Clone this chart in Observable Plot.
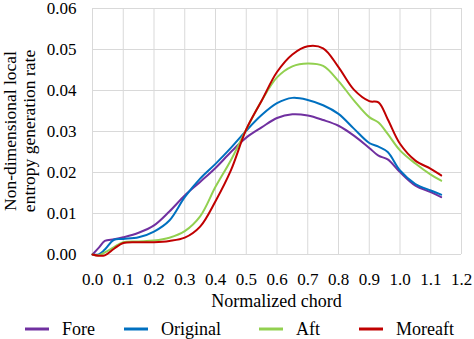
<!DOCTYPE html>
<html>
<head>
<meta charset="utf-8">
<script src="https://cdn.jsdelivr.net/npm/d3@7"></script>
<script src="https://cdn.jsdelivr.net/npm/@observablehq/plot@0.6"></script>
<style>
  html, body { margin: 0; padding: 0; background: #fff; }
  #chart { width: 474px; font-family: "Liberation Serif", "DejaVu Serif", "Times New Roman", Times, serif; }
  #chart svg text { font-family: "Liberation Serif", "DejaVu Serif", "Times New Roman", Times, serif !important; }
  svg { display: block; }
</style>
</head>
<body>
<div id="chart"></div>
<script>
// ---- data ----
const chord = [0, 0.02, 0.04, 0.07, 0.1, 0.15, 0.2, 0.25, 0.3, 0.35, 0.4, 0.45, 0.5, 0.55, 0.6, 0.65, 0.7, 0.75, 0.8, 0.85, 0.9, 0.93, 0.96, 1.0, 1.05, 1.1, 1.134];
const fore     = [0, 0.0016, 0.0033, 0.0037, 0.0042, 0.0053, 0.0071, 0.0105, 0.0144, 0.0177, 0.0211, 0.025, 0.0285, 0.031, 0.0333, 0.0342, 0.0339, 0.0328, 0.0314, 0.029, 0.026, 0.0241, 0.0232, 0.0201, 0.0168, 0.0152, 0.014];
const original = [0, 0, 0.0012, 0.0036, 0.0038, 0.0042, 0.0056, 0.0083, 0.014, 0.0185, 0.0221, 0.026, 0.0302, 0.034, 0.0369, 0.0382, 0.0377, 0.0364, 0.0343, 0.0307, 0.0272, 0.0263, 0.025, 0.0205, 0.0172, 0.0156, 0.0146];
const aft      = [0, -0.0002, 0.0005, 0.0018, 0.003, 0.0032, 0.0034, 0.0041, 0.0057, 0.0093, 0.0165, 0.023, 0.0305, 0.0375, 0.0432, 0.0459, 0.0466, 0.046, 0.0423, 0.0376, 0.0335, 0.0322, 0.0294, 0.0254, 0.0222, 0.0195, 0.018];
const moreaft  = [0, -0.0003, -0.0002, 0.0014, 0.0028, 0.003, 0.003, 0.0033, 0.0041, 0.0068, 0.013, 0.0205, 0.0305, 0.0375, 0.0445, 0.0488, 0.0508, 0.0503, 0.0457, 0.0402, 0.0374, 0.0371, 0.033, 0.027, 0.0229, 0.0209, 0.0193];
const seriesNames = ["Fore", "Original", "Aft", "Moreaft"];
const seriesColors = ["#7030A0", "#0070C0", "#92D050", "#C00000"];
const xTicks = [0, 0.1, 0.2, 0.3, 0.4, 0.5, 0.6, 0.7, 0.8, 0.9, 1.0, 1.1, 1.2];
const yTicks = [0, 0.01, 0.02, 0.03, 0.04, 0.05, 0.06];
const xTitle = "Normalized chord";
const yTitle = ["Non-dimensional local", "entropy generation rate"];

const seriesValues = [fore, original, aft, moreaft];
const rows = seriesNames.flatMap((name, k) =>
  chord.map((x, i) => ({ x, y: seriesValues[k][i], name })));

const W = 474, H = 312;
const mL = 92, mR = 13, mT = 8, mB = 58;
const font = "Liberation Serif, DejaVu Serif, Times New Roman, serif";

const plot = Plot.plot({
  width: W, height: H,
  marginLeft: mL, marginRight: mR, marginTop: mT, marginBottom: mB,
  style: { fontFamily: font, fontSize: "17px", color: "#000", background: "#fff", overflow: "visible" },
  x: { domain: [0, 1.2] },
  y: { domain: [0, 0.06] },
  color: { domain: seriesNames, range: seriesColors },
  marks: [
    Plot.ruleX(xTicks, { stroke: "#d9d9d9", strokeWidth: 1 }),
    Plot.ruleY(yTicks, { stroke: "#d9d9d9", strokeWidth: 1 }),
    Plot.axisX({ ticks: xTicks, tickFormat: d3.format(".1f"), tickSize: 0, tickPadding: 18, label: null, fontSize: 17 }),
    Plot.axisY({ ticks: yTicks, tickFormat: d3.format(".2f"), tickSize: 0, tickPadding: 16, label: null, fontSize: 17 }),
    Plot.line(rows, { x: "x", y: "y", z: "name", stroke: "name", strokeWidth: 2, curve: "catmull-rom" })
  ]
});

const svg = d3.select(plot);
// x title
svg.append("text")
  .attr("x", (mL + W - mR) / 2).attr("y", 307)
  .attr("text-anchor", "middle")
  .style("font-size", "18px").attr("fill", "#000")
  .text(xTitle);
// y title (two lines, rotated)
const yc = (mT + H - mB) / 2;
[15.5, 35].forEach((bx, i) => {
  svg.append("text")
    .attr("transform", `translate(${bx},${yc}) rotate(-90)`)
    .attr("text-anchor", "middle")
    .style("font-size", "17.5px").attr("fill", "#000")
    .text(yTitle[i]);
});

document.getElementById("chart").appendChild(plot);

// legend below the svg
const legendX = [25, 124, 259, 359];
const leg = d3.select("#chart").append("svg")
  .attr("width", W).attr("height", 27);
seriesNames.forEach((name, i) => {
  const g = leg.append("g").attr("transform", `translate(${legendX[i]},0)`);
  g.append("line").attr("x1", 0).attr("x2", 24).attr("y1", 17).attr("y2", 17)
    .attr("stroke", seriesColors[i]).attr("stroke-width", 3);
  g.append("text").attr("x", 37).attr("y", 23)
    .style("font-size", "18px").attr("fill", "#000")
    .text(name);
});
</script>
</body>
</html>
